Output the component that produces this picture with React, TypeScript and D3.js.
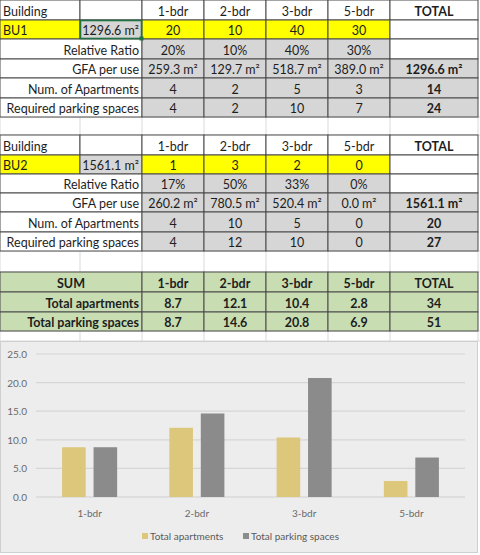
import React from "react";
import * as d3 from "d3";

const categories = ["1-bdr", "2-bdr", "3-bdr", "5-bdr"];

const bu1Name = "BU1";
const bu1Area = "1296.6 m²";
const bu1Shares = ["20", "10", "40", "30"];
const bu1Ratio = ["20%", "10%", "40%", "30%"];
const bu1Gfa = ["259.3 m²", "129.7 m²", "518.7 m²", "389.0 m²"];
const bu1Apts = ["4", "2", "5", "3"];
const bu1Parking = ["4", "2", "10", "7"];
const bu1Totals = ["", "1296.6 m²", "14", "24"];

const bu2Name = "BU2";
const bu2Area = "1561.1 m²";
const bu2Shares = ["1", "3", "2", "0"];
const bu2Ratio = ["17%", "50%", "33%", "0%"];
const bu2Gfa = ["260.2 m²", "780.5 m²", "520.4 m²", "0.0 m²"];
const bu2Apts = ["4", "10", "5", "0"];
const bu2Parking = ["4", "12", "10", "0"];
const bu2Totals = ["", "1561.1 m²", "20", "27"];

const rowLabels = ["Relative Ratio", "GFA per use", "Num. of Apartments", "Required parking spaces"];

const seriesNames = ["Total apartments", "Total parking spaces"];
const totalApartments = [8.7, 12.1, 10.4, 2.8];
const totalParking = [8.7, 14.6, 20.8, 6.9];
const sumTotals = ["34", "51"];
const yTicks = [0, 5, 10, 15, 20, 25];

const W = 480;
const H = 555;
const colX = [0, 80, 142, 204, 266, 328, 390, 478];
const FONT = "Lato, 'Liberation Sans', sans-serif";
const GRID = "#d9d9d9";
const BORDER = "#4a4a4a";
const YELLOW = "#ffff00";
const CELLGREY = "#d6d6d6";
const GREEN = "#c8ddb2";

type Cell = {
  c0: number;
  c1: number;
  text: string;
  fill: string;
  align: "start" | "middle" | "end";
  bold?: boolean;
};

function Row({ y0, y1, cells }: { y0: number; y1: number; cells: Cell[] }) {
  const cy = (y0 + y1) / 2 + 1;
  return (
    <g>
      {cells.map((c, i) => {
        const x0 = colX[c.c0];
        const x1 = colX[c.c1];
        const tx = c.align === "start" ? x0 + 3 : c.align === "end" ? x1 - 3 : (x0 + x1) / 2;
        return (
          <g key={i}>
            <rect x={x0} y={y0} width={x1 - x0} height={y1 - y0} fill={c.fill} stroke={BORDER} strokeWidth={1} />
            <text
              x={tx}
              y={cy}
              textAnchor={c.align}
              dominantBaseline="central"
              fontSize={12.5}
              fontWeight={c.bold ? "bold" : "normal"}
              fill="#1e1e1e"
            >
              {c.text}
            </text>
          </g>
        );
      })}
    </g>
  );
}

function BuildingTable({
  top,
  edges,
  name,
  area,
  shares,
  ratio,
  gfa,
  apts,
  parking,
  totals,
  selected,
}: {
  top: number;
  edges: number[];
  name: string;
  area: string;
  shares: string[];
  ratio: string[];
  gfa: string[];
  apts: string[];
  parking: string[];
  totals: string[];
  selected: boolean;
}) {
  const e = edges.map((d) => d + top);
  const header: Cell[] = [
    { c0: 0, c1: 1, text: "Building", fill: "#fff", align: "start" },
    { c0: 1, c1: 2, text: "", fill: "#fff", align: "start" },
    ...categories.map((c, i) => ({ c0: 2 + i, c1: 3 + i, text: c, fill: "#fff", align: "middle" as const })),
    { c0: 6, c1: 7, text: "TOTAL", fill: "#fff", align: "middle", bold: true },
  ];
  const buRow: Cell[] = [
    { c0: 0, c1: 1, text: name, fill: YELLOW, align: "start" },
    { c0: 1, c1: 2, text: area, fill: CELLGREY, align: "end" },
    ...shares.map((s, i) => ({ c0: 2 + i, c1: 3 + i, text: s, fill: YELLOW, align: "middle" as const })),
    { c0: 6, c1: 7, text: "", fill: "#fff", align: "middle" },
  ];
  const dataRows = [ratio, gfa, apts, parking].map((vals, r) => [
    { c0: 0, c1: 2, text: rowLabels[r], fill: "#fff", align: "end" as const },
    ...vals.map((v, i) => ({ c0: 2 + i, c1: 3 + i, text: v, fill: CELLGREY, align: "middle" as const })),
    { c0: 6, c1: 7, text: totals[r], fill: r === 0 ? "#fff" : CELLGREY, align: "middle" as const, bold: true },
  ]);
  const rows = [header, buRow, ...dataRows];
  return (
    <g>
      {rows.map((cells, i) => (
        <Row key={i} y0={e[i]} y1={e[i + 1]} cells={cells} />
      ))}
      {selected && (
        <g>
          <rect x={colX[1] + 0.5} y={e[1] + 0.5} width={colX[2] - colX[1] - 1} height={e[2] - e[1] - 1} fill="none" stroke="#217346" strokeWidth={1.6} />
          <rect x={colX[2] - 2.5} y={e[2] - 2.5} width={4} height={4} fill="#217346" />
        </g>
      )}
    </g>
  );
}

function SheetGrid({ y0, y1, rowH }: { y0: number; y1: number; rowH: number }) {
  const lines: number[] = [];
  for (let y = y0; y <= y1 + 0.1; y += rowH) lines.push(y);
  return (
    <g stroke={GRID} strokeWidth={1}>
      {colX.map((x, i) => (
        <line key={"v" + i} x1={x} x2={x} y1={y0} y2={y1} />
      ))}
      {lines.map((y, i) => (
        <line key={"h" + i} x1={0} x2={W} y1={y} y2={y} />
      ))}
    </g>
  );
}

function SumTable({ edges }: { edges: number[] }) {
  const header: Cell[] = [
    { c0: 0, c1: 2, text: "SUM", fill: GREEN, align: "middle", bold: true },
    ...categories.map((c, i) => ({ c0: 2 + i, c1: 3 + i, text: c, fill: GREEN, align: "middle" as const, bold: true })),
    { c0: 6, c1: 7, text: "TOTAL", fill: GREEN, align: "middle", bold: true },
  ];
  const series = [totalApartments, totalParking];
  const rows = series.map((vals, r) => [
    { c0: 0, c1: 2, text: seriesNames[r], fill: GREEN, align: "end" as const, bold: true },
    ...vals.map((v, i) => ({ c0: 2 + i, c1: 3 + i, text: d3.format(".1f")(v), fill: GREEN, align: "middle" as const, bold: true })),
    { c0: 6, c1: 7, text: sumTotals[r], fill: GREEN, align: "middle" as const, bold: true },
  ]);
  const all = [header, ...rows];
  return (
    <g>
      {all.map((cells, i) => (
        <Row key={i} y0={edges[i]} y1={edges[i + 1]} cells={cells} />
      ))}
    </g>
  );
}

function Chart() {
  const left = 36;
  const right = 465;
  const top = 354;
  const bottom = 497;
  const y = d3.scaleLinear().domain([0, 25]).range([bottom, top]);
  const x0 = d3.scaleBand<string>().domain(categories).range([left, right]).padding(0);
  const x1 = d3
    .scaleBand<string>()
    .domain(seriesNames)
    .range([0, x0.bandwidth()])
    .paddingInner(0.25)
    .paddingOuter(0.83);
  const colors = d3.scaleOrdinal<string, string>().domain(seriesNames).range(["#dcc77b", "#8b8b8b"]);
  const values = [totalApartments, totalParking];
  const fmt = d3.format(".1f");
  return (
    <g fontFamily={FONT}>
      <rect x={0.5} y={341.5} width={477} height={211} fill="#ededed" stroke="#cfcfcf" />
      {yTicks.map((t) => (
        <g key={t}>
          <line x1={left} x2={right} y1={y(t)} y2={y(t)} stroke={t === 0 ? "#cfcfcf" : "#d6d6d6"} strokeWidth={1.2} />
          <text x={27} y={y(t)} textAnchor="end" dominantBaseline="central" fontSize={10} fill="#6a6a6a">
            {fmt(t)}
          </text>
        </g>
      ))}
      {categories.map((c, ci) => (
        <g key={c}>
          {seriesNames.map((s, si) => (
            <rect
              key={s}
              x={(x0(c) as number) + (x1(s) as number)}
              y={y(values[si][ci])}
              width={x1.bandwidth()}
              height={bottom - y(values[si][ci])}
              fill={colors(s)}
            />
          ))}
          <text x={(x0(c) as number) + x0.bandwidth() / 2} y={513} textAnchor="middle" dominantBaseline="central" fontSize={10} fill="#6a6a6a">
            {c}
          </text>
        </g>
      ))}
      {seriesNames.map((s, i) => {
        const lx = i === 0 ? 142 : 243;
        return (
          <g key={s}>
            <rect x={lx} y={533} width={6} height={6} fill={colors(s)} />
            <text x={lx + 8} y={536} dominantBaseline="central" fontSize={10} fill="#5a5a5a">
              {s}
            </text>
          </g>
        );
      })}
    </g>
  );
}

export default function App() {
  const edges = [0, 20, 39, 59, 78, 98, 117];
  return (
    <svg
      width={W}
      height={H}
      viewBox={`0 0 ${W} ${H}`}
      style={{ position: "absolute", left: 0, top: 0, background: "#ffffff" }}
      fontFamily={FONT}
    >
      <rect x={0} y={0} width={W} height={H} fill="#fff" />
      <SheetGrid y0={117} y1={135} rowH={18} />
      <SheetGrid y0={251} y1={272} rowH={21} />
      <SheetGrid y0={331} y1={341} rowH={10} />
      <BuildingTable
        top={0}
        edges={edges}
        name={bu1Name}
        area={bu1Area}
        shares={bu1Shares}
        ratio={bu1Ratio}
        gfa={bu1Gfa}
        apts={bu1Apts}
        parking={bu1Parking}
        totals={bu1Totals}
        selected={true}
      />
      <BuildingTable
        top={135}
        edges={[0, 20, 39, 58, 77, 97, 116]}
        name={bu2Name}
        area={bu2Area}
        shares={bu2Shares}
        ratio={bu2Ratio}
        gfa={bu2Gfa}
        apts={bu2Apts}
        parking={bu2Parking}
        totals={bu2Totals}
        selected={false}
      />
      <SumTable edges={[272, 292, 312, 331]} />
      <Chart />
    </svg>
  );
}
